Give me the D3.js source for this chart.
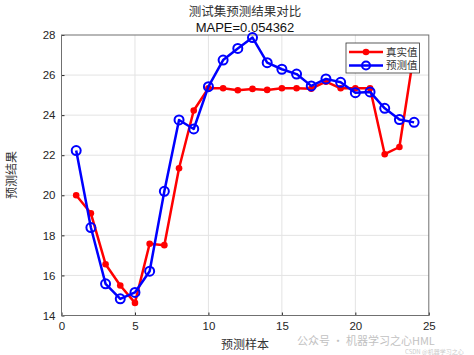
<!DOCTYPE html>
<html><head><meta charset="utf-8">
<script src="https://cdn.jsdelivr.net/npm/d3@7"></script>
<style>body{margin:0;background:#fff}svg{display:block}</style>
</head><body><svg id="c" width="474" height="355"></svg>
<script>
const samples = d3.range(1, 25);
const actual = [20.0,19.1,16.56,15.5,14.63,17.58,17.51,21.35,24.23,25.34,25.34,25.24,25.31,25.26,25.34,25.34,25.32,25.67,25.34,25.34,25.34,22.05,22.41,27.15];
const predicted = [22.23,18.39,15.58,14.83,15.15,16.21,20.2,23.76,23.31,25.42,26.75,27.33,27.87,26.62,26.29,26.05,25.46,25.81,25.64,25.12,25.16,24.34,23.78,23.64];
const xTicks = [0,5,10,15,20,25];
const yTicks = [14,16,18,20,22,24,26,28];
const seriesNames = ["真实值","预测值"];
const titleText = "测试集预测结果对比";
const subTitle = "MAPE=0.054362";

const svg = d3.select("#c");
const L=61.5, R=428.8, T=35, B=315.5;
const x = d3.scaleLinear().domain([0,25]).range([L,R]);
const y = d3.scaleLinear().domain([14,28]).range([B,T]);
const cjk = "'Noto Sans CJK SC', sans-serif";
const sans = "'Liberation Sans', Arial, sans-serif";

// grid
svg.append("g").selectAll("line").data(xTicks.slice(1,-1)).join("line")
 .attr("x1",d=>x(d)).attr("x2",d=>x(d)).attr("y1",T).attr("y2",B)
 .attr("stroke","#e3e3e3").attr("stroke-width",1);
svg.append("g").selectAll("line").data(yTicks.slice(1,-1)).join("line")
 .attr("y1",d=>y(d)).attr("y2",d=>y(d)).attr("x1",L).attr("x2",R)
 .attr("stroke","#e3e3e3").attr("stroke-width",1);

// axes
const xa = svg.append("g").attr("transform",`translate(0,${B})`)
 .call(d3.axisBottom(x).tickValues(xTicks).tickSizeInner(-3).tickSizeOuter(0).tickPadding(6));
const ya = svg.append("g").attr("transform",`translate(${L},0)`)
 .call(d3.axisLeft(y).tickValues(yTicks).tickSizeInner(-3).tickSizeOuter(0).tickPadding(6));
[xa,ya].forEach(a=>{
  a.selectAll("text").attr("font-family",sans).attr("font-size",11.5).attr("fill","#262626");
  a.selectAll("line").attr("stroke","#262626");
  a.select(".domain").remove();
});
svg.append("rect").attr("x",L).attr("y",T).attr("width",R-L).attr("height",B-T)
 .attr("fill","none").attr("stroke","#707070").attr("stroke-width",1);

// lines
const line = d3.line().x((d,i)=>x(samples[i])).y(d=>y(d));
svg.append("path").datum(actual).attr("d",line).attr("fill","none")
 .attr("stroke","#ff0000").attr("stroke-width",2.5).attr("stroke-linejoin","round");
svg.append("g").selectAll("circle").data(actual).join("circle")
 .attr("cx",(d,i)=>x(samples[i])).attr("cy",d=>y(d)).attr("r",3.3).attr("fill","#ff0000");
svg.append("path").datum(predicted).attr("d",line).attr("fill","none")
 .attr("stroke","#0000ff").attr("stroke-width",2.5).attr("stroke-linejoin","round");
svg.append("g").selectAll("circle").data(predicted).join("circle")
 .attr("cx",(d,i)=>x(samples[i])).attr("cy",d=>y(d)).attr("r",4.5)
 .attr("fill","none").attr("stroke","#0000ff").attr("stroke-width",2);

// legend
const lg = svg.append("g");
lg.append("rect").attr("x",346).attr("y",43).attr("width",73.5).attr("height",30)
 .attr("fill","#fff").attr("stroke","#333").attr("stroke-width",0.8);
const colors=["#ff0000","#0000ff"];
seriesNames.forEach((n,i)=>{
  const yy = 52 + i*13.5;
  lg.append("line").attr("x1",349).attr("x2",383).attr("y1",yy).attr("y2",yy)
    .attr("stroke",colors[i]).attr("stroke-width",2.5);
  if(i===0) lg.append("circle").attr("cx",366).attr("cy",yy).attr("r",3.3).attr("fill",colors[i]);
  else lg.append("circle").attr("cx",366).attr("cy",yy).attr("r",4).attr("fill","none").attr("stroke",colors[i]).attr("stroke-width",2);
  lg.append("text").attr("x",386).attr("y",yy+3.6).text(n)
    .attr("font-family",cjk).attr("font-size",10.5).attr("fill","#333");
});

// titles
svg.append("text").attr("x",245).attr("y",15.5).attr("text-anchor","middle")
 .attr("font-family",cjk).attr("font-size",12.5).attr("fill","#333").text(titleText);
svg.append("text").attr("x",245).attr("y",31.5).attr("text-anchor","middle")
 .attr("font-family",sans).attr("font-size",13).attr("fill","#111").text(subTitle);
svg.append("text").attr("x",245).attr("y",349).attr("text-anchor","middle")
 .attr("font-family",cjk).attr("font-size",12).attr("fill","#333").text("预测样本");
svg.append("text").attr("transform","translate(16,175) rotate(-90)").attr("text-anchor","middle")
 .attr("font-family",cjk).attr("font-size",12).attr("fill","#333").text("预测结果");

// watermark
svg.append("text").attr("x",297).attr("y",345.3).attr("font-family",cjk).attr("font-size",11)
 .attr("fill","#999").attr("opacity",0.6).text("公众号 · 机器学习之心HML");
svg.append("text").attr("x",405).attr("y",353.5).attr("font-family",cjk).attr("font-size",6)
 .attr("fill","#aaa").attr("opacity",0.6).text("CSDN @机器学习之心");
</script></body></html>
